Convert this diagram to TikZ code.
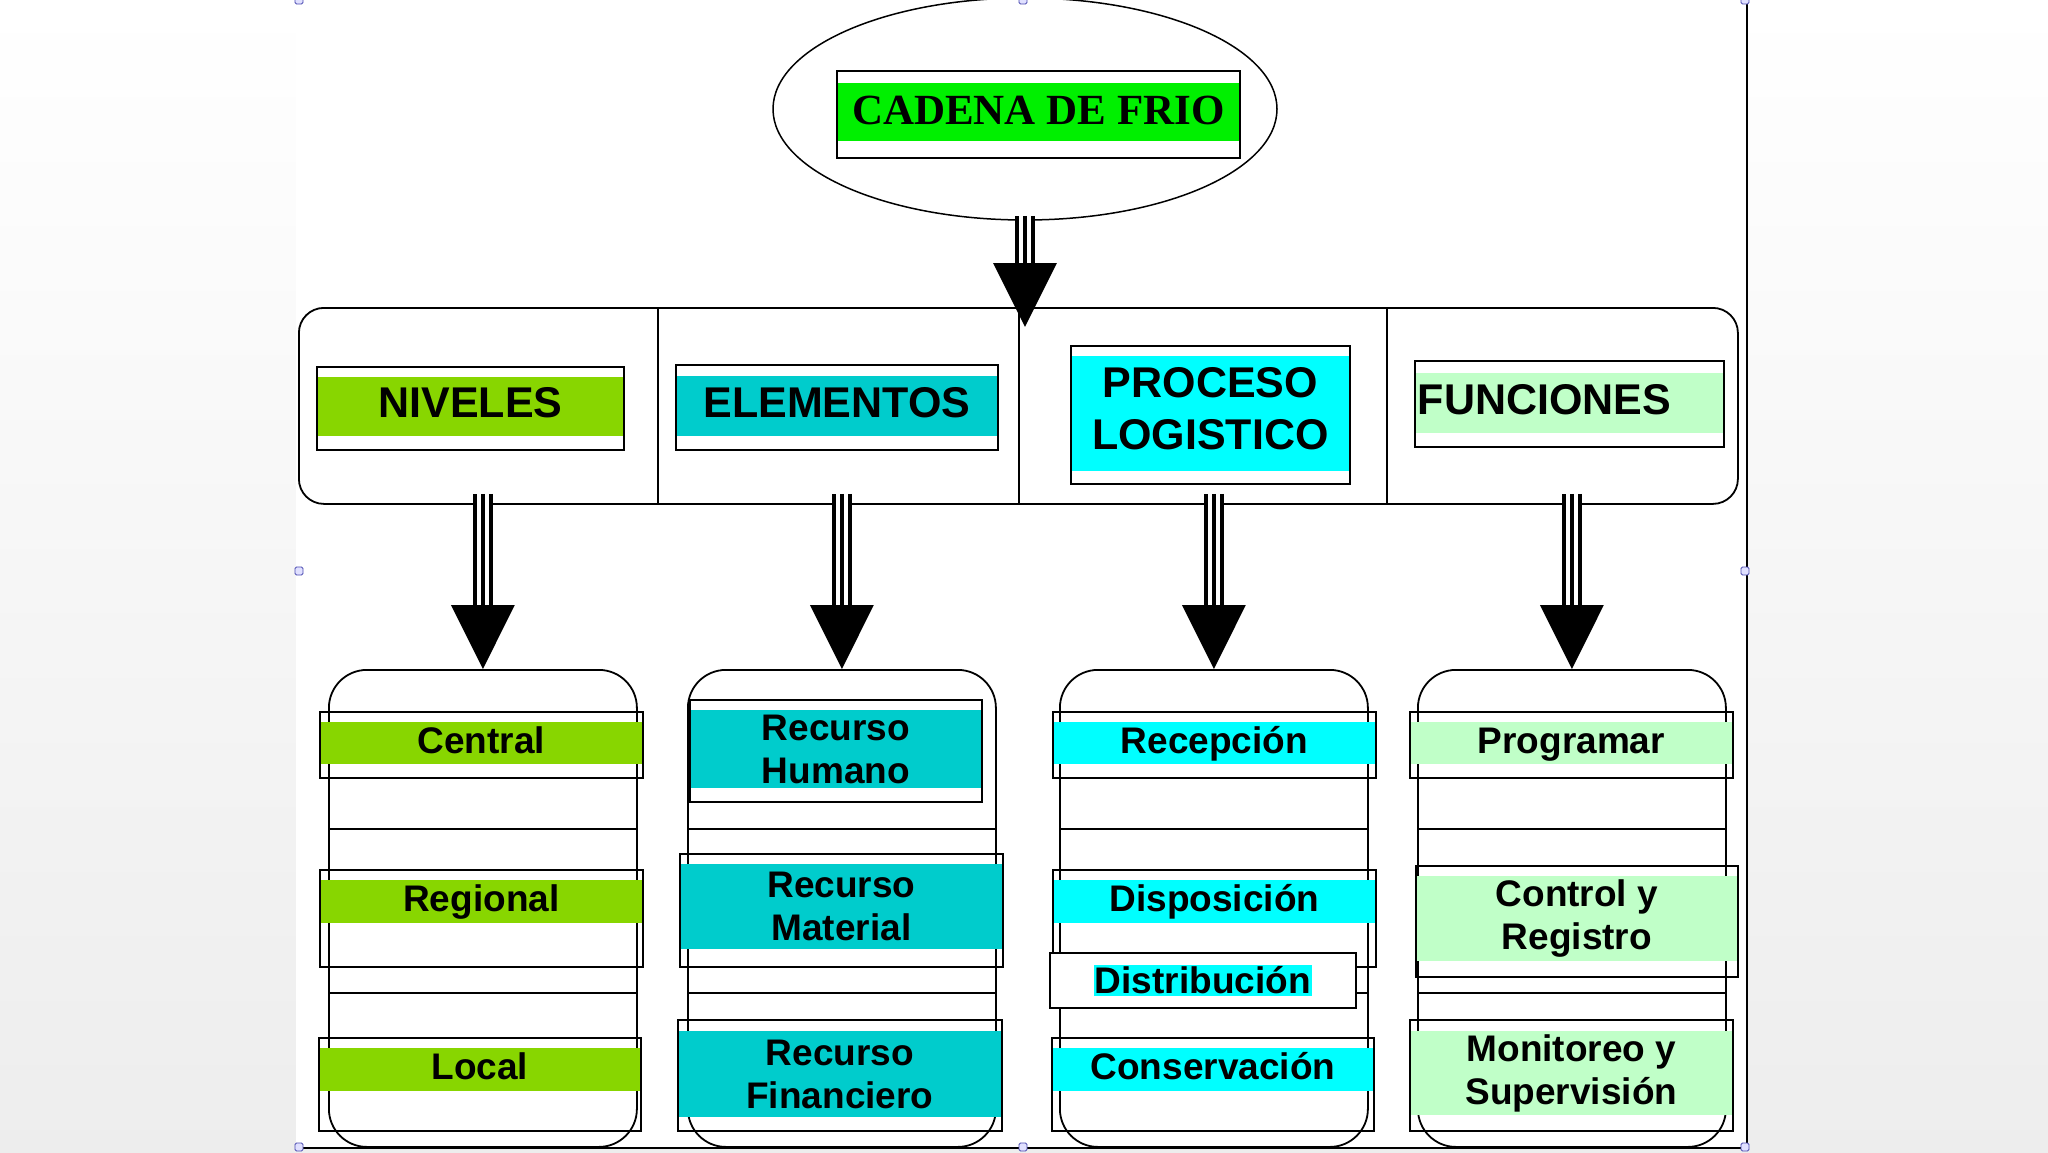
\documentclass[tikz,border=0pt]{standalone}
\usepackage{fontspec}
\setmainfont{Liberation Sans}
\newfontfamily\timesfont{Liberation Serif}
\usetikzlibrary{arrows.meta, positioning, shapes.geometric, calc}

\definecolor{verdeFrio}{RGB}{0,240,0}
\definecolor{verdeNivel}{RGB}{136,214,0}
\definecolor{turquesa}{RGB}{0,204,204}
\definecolor{cian}{RGB}{0,255,255}
\definecolor{menta}{RGB}{192,255,200}

\tikzset{
  marco/.style={draw, line width=1.8pt, inner sep=0pt, anchor=north west},
  franja/.style={fill=#1, inner sep=0pt, align=center},
  titulo/.style={font=\bfseries\fontsize{43}{52}\selectfont, text height=31pt, text depth=9pt},
  item/.style={font=\bfseries\fontsize{37}{43}\selectfont},
  linea/.style={text height=28pt, text depth=8pt},
  columna/.style={draw, line width=1.8pt, rounded corners=38pt, anchor=north west,
                  minimum width=308pt, minimum height=477pt},
  flecha/.style={line width=3.5pt, -{Triangle[width=63pt,length=64pt]},
                 preaction={draw, -, double=white, double distance=12.5pt, shorten >=62pt}},
}

\begin{document}
\begin{tikzpicture}[x=1pt, y=-1pt]
  \useasboundingbox (0,0) rectangle (2048,1152);
  % page and background
  \shade[top color=white, bottom color=black!7] (0,0) rectangle (2048,1152);
  \fill[white] (296,0) rectangle (1747,1148);
  \draw[line width=2pt] (1747,0) -- (1747,1148) -- (296,1148);

  % title
  \node[ellipse, draw, line width=1.5pt, minimum width=504pt, minimum height=222pt] (elli) at (1025,109) {};
  \node[marco, minimum width=403pt, minimum height=87pt] (cadF) at (836,70) {};
  \node[franja=verdeFrio, below=13pt of cadF.north, minimum width=401pt, minimum height=58pt,
        text height=29pt, text depth=4pt,
        font=\timesfont\bfseries\fontsize{43}{52}\selectfont] (cad) {CADENA DE FRIO};

  % header row
  \node[draw, line width=1.8pt, rounded corners=25pt, anchor=north west,
        minimum width=1439pt, minimum height=196pt] (fila) at (298,307) {};
  \foreach \x in {658,1019,1387}
    \draw[line width=1.5pt] (\x,307) -- (\x,503);

  \node[marco, minimum width=307pt, minimum height=83pt] (nivF) at (316,366) {};
  \node[franja=verdeNivel, titulo, below=11pt of nivF.north, minimum width=305pt, minimum height=59pt] (niv) {NIVELES};
  \node[marco, minimum width=322pt, minimum height=85pt] (eleF) at (675,364) {};
  \node[franja=turquesa, titulo, below=12pt of eleF.north, minimum width=320pt, minimum height=60pt] (ele) {ELEMENTOS};
  \node[marco, minimum width=279pt, minimum height=138pt] (proF) at (1070,345) {};
  \node[franja=cian, titulo, text height=, text depth=10pt, below=11pt of proF.north,
        minimum width=277pt, minimum height=115pt] (pro) {PROCESO\\LOGISTICO};
  \node[marco, minimum width=309pt, minimum height=86pt] (funF) at (1414,360) {};
  \node[franja=menta, titulo, below=13pt of funF.north, minimum width=307pt, minimum height=60pt,
        text width=303pt, inner xsep=2pt, align=left] (fun) {FUNCIONES};

  % columns
  \node[columna] (colA) at (328,669) {};
  \node[columna] (colB) at (687,669) {};
  \node[columna] (colC) at (1059,669) {};
  \node[columna] (colD) at (1417,669) {};
  \foreach \x in {328,687,1059,1417} {
    \draw[line width=1.8pt] (\x,829) -- ++(308,0);
    \draw[line width=1.8pt] (\x,993) -- ++(308,0);
  }

  % arrows
  \draw[flecha] ($(elli.south)+(0,-5)$) -- ($(fila.north -| elli.south)+(0,20)$);
  \foreach \c in {colA,colB,colC,colD}
    \draw[flecha] ($(fila.south -| \c.north)+(0,-11)$) -- (\c.north);

  % niveles
  \node[marco, minimum width=323pt, minimum height=66pt] (cenF) at (319,711) {};
  \node[franja=verdeNivel, item, linea, below=11pt of cenF.north, minimum width=321pt, minimum height=42pt] (cen) {Central};
  \node[marco, minimum width=323pt, minimum height=97pt] (regF) at (319,869) {};
  \node[franja=verdeNivel, item, linea, below=11pt of regF.north, minimum width=321pt, minimum height=43pt] (reg) {Regional};
  \node[marco, minimum width=322pt, minimum height=93pt] (locF) at (318,1037) {};
  \node[franja=verdeNivel, item, linea, below=11pt of locF.north, minimum width=320pt, minimum height=43pt] (loc) {Local};

  % elementos
  \node[marco, minimum width=292pt, minimum height=102pt] (rhuF) at (689,699) {};
  \node[franja=turquesa, item, below=11pt of rhuF.north, minimum width=290pt, minimum height=78pt] (rhu) {Recurso\\Humano};
  \node[marco, minimum width=323pt, minimum height=113pt] (rmaF) at (679,853) {};
  \node[franja=turquesa, item, below=11pt of rmaF.north, minimum width=321pt, minimum height=85pt] (rma) {Recurso\\Material};
  \node[marco, minimum width=324pt, minimum height=111pt] (rfiF) at (677,1019) {};
  \node[franja=turquesa, item, below=12pt of rfiF.north, minimum width=322pt, minimum height=86pt] (rfi) {Recurso\\Financiero};

  % proceso logistico
  \node[marco, minimum width=323pt, minimum height=66pt] (recF) at (1052,711) {};
  \node[franja=cian, item, linea, below=11pt of recF.north, minimum width=321pt, minimum height=42pt] (rec) {Recepción};
  \node[marco, minimum width=323pt, minimum height=97pt] (disF) at (1052,869) {};
  \node[franja=cian, item, linea, below=11pt of disF.north, minimum width=321pt, minimum height=43pt] (dis) {Disposición};
  \node[marco, fill=white, minimum width=306pt, minimum height=55pt] (dtrF) at (1049,952) {};
  \node[franja=cian, item, inner xsep=1pt, text height=29pt, text depth=2pt] (dtr) at (dtrF.center) {Distribución};
  \node[marco, minimum width=322pt, minimum height=93pt] (conF) at (1051,1037) {};
  \node[franja=cian, item, linea, below=11pt of conF.north, minimum width=320pt, minimum height=43pt] (con) {Conservación};

  % funciones
  \node[marco, minimum width=323pt, minimum height=66pt] (prgF) at (1409,711) {};
  \node[franja=menta, item, linea, below=11pt of prgF.north, minimum width=321pt, minimum height=42pt] (prg) {Programar};
  \node[marco, minimum width=322pt, minimum height=111pt] (crgF) at (1415,865) {};
  \node[franja=menta, item, below=11pt of crgF.north, minimum width=320pt, minimum height=85pt] (crg) {Control y\\Registro};
  \node[marco, minimum width=323pt, minimum height=111pt] (monF) at (1409,1019) {};
  \node[franja=menta, item, below=12pt of monF.north, minimum width=321pt, minimum height=84pt] (mon) {Monitoreo y\\Supervisión};

  % selection handles
  \foreach \x/\y in {299/0,1023/0,1745/0,299/571,1745/571,299/1147,1023/1147,1745/1147}
    \filldraw[fill=blue!12, draw=blue!40!gray, line width=0.8pt, rounded corners=1.5pt]
      (\x-4,\y-4) rectangle (\x+4,\y+4);
\end{tikzpicture}
\end{document}
